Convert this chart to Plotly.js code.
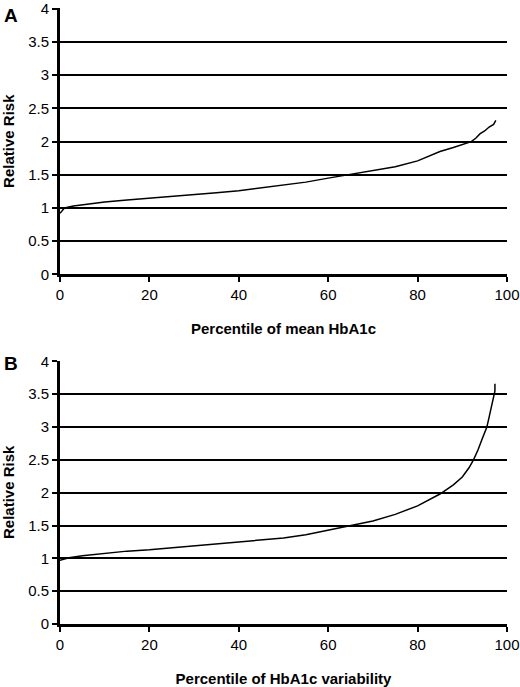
<!DOCTYPE html>
<html>
<head>
<meta charset="utf-8">
<script src="https://cdn.plot.ly/plotly-3.0.1.min.js"></script>
<style>
  html, body { margin: 0; padding: 0; background: #fff; }
  #chart { width: 520px; height: 687px; }
</style>
</head>
<body>
<div id="chart"></div>
<script>
// panel A: relative risk by percentile of mean HbA1c
var meanPct = [0, 0.5, 1, 3, 5, 10, 15, 20, 25, 30, 35, 40, 45, 50, 55, 60, 65, 70, 75, 80, 85, 88, 90, 92, 93, 94, 95, 96, 97, 97.5];
var meanRR  = [0.92, 0.97, 1.0, 1.03, 1.05, 1.09, 1.12, 1.145, 1.17, 1.2, 1.23, 1.26, 1.3, 1.34, 1.39, 1.45, 1.51, 1.56, 1.62, 1.71, 1.85, 1.91, 1.96, 2.0, 2.05, 2.12, 2.16, 2.22, 2.26, 2.32];

// panel B: relative risk by percentile of HbA1c variability
var varPct = [0, 2, 5, 10, 15, 20, 25, 30, 35, 40, 45, 50, 55, 60, 65, 70, 75, 80, 85, 88, 90, 91.5, 92.5, 93.5, 94.5, 95.5, 96, 96.5, 97, 97.3, 97.3];
var varRR  = [0.97, 1.01, 1.04, 1.08, 1.11, 1.13, 1.16, 1.19, 1.22, 1.25, 1.28, 1.31, 1.36, 1.43, 1.49, 1.57, 1.67, 1.8, 1.98, 2.12, 2.24, 2.38, 2.5, 2.65, 2.83, 3.0, 3.15, 3.3, 3.48, 3.55, 3.66];

var yTicks = [0, 0.5, 1, 1.5, 2, 2.5, 3, 3.5, 4];
var yTickText = ["0", "0.5", "1", "1.5", "2", "2.5", "3", "3.5", "4"];
var xTicks = [0, 20, 40, 60, 80, 100];

var font = "Liberation Sans, Arial, sans-serif";

function xAxis(title, anchor) {
    return {
        anchor: anchor,
        range: [0, 100],
        tickvals: xTicks,
        ticks: "outside", ticklen: 5, tickwidth: 2, tickcolor: "#000",
        showline: true, linewidth: 3, linecolor: "#000",
        showgrid: false, zeroline: false,
        tickfont: {size: 15, color: "#000"},
        title: {text: "<b>" + title + "</b>", font: {size: 15, color: "#000"}, standoff: 22},
        automargin: false, fixedrange: true
    };
}

function yAxis(domain, anchor) {
    return {
        anchor: anchor,
        domain: domain,
        // a hair above 4 so the top gridline is still drawn
        range: [0, 4.012],
        tickvals: yTicks, ticktext: yTickText,
        ticks: "outside", ticklen: 5, tickwidth: 2, tickcolor: "#000",
        showline: true, linewidth: 3, linecolor: "#000",
        showgrid: true, gridcolor: "#000", gridwidth: 2,
        zeroline: false,
        tickfont: {size: 15, color: "#000"},
        title: {text: "<b>Relative Risk</b>", font: {size: 15, color: "#000"}, standoff: 12},
        automargin: false, fixedrange: true
    };
}

var traces = [
    {x: meanPct, y: meanRR, xaxis: "x", yaxis: "y", type: "scatter", mode: "lines",
     line: {color: "#000", width: 1.5}, hoverinfo: "skip"},
    {x: varPct, y: varRR, xaxis: "x2", yaxis: "y2", type: "scatter", mode: "lines",
     line: {color: "#000", width: 1.5}, hoverinfo: "skip"}
];

var layout = {
    width: 520,
    height: 687,
    margin: {l: 60, r: 13, t: 8, b: 63},
    paper_bgcolor: "#fff",
    plot_bgcolor: "#fff",
    showlegend: false,
    font: {family: font, color: "#000"},
    xaxis: xAxis("Percentile of mean HbA1c", "y"),
    yaxis: yAxis([0.5675, 1], "x"),
    xaxis2: xAxis("Percentile of HbA1c variability", "y2"),
    yaxis2: yAxis([0, 0.4276], "x2"),
    annotations: [
        {text: "<b>A</b>", xref: "paper", yref: "paper", x: -0.13, y: 1.0, xanchor: "left", yanchor: "top",
         yshift: 5, showarrow: false, font: {size: 19, color: "#000"}},
        {text: "<b>B</b>", xref: "paper", yref: "paper", x: -0.13, y: 0.4276, xanchor: "left", yanchor: "top",
         yshift: 10, showarrow: false, font: {size: 19, color: "#000"}}
    ]
};

Plotly.newPlot("chart", traces, layout, {displayModeBar: false, staticPlot: true});
</script>
</body>
</html>
